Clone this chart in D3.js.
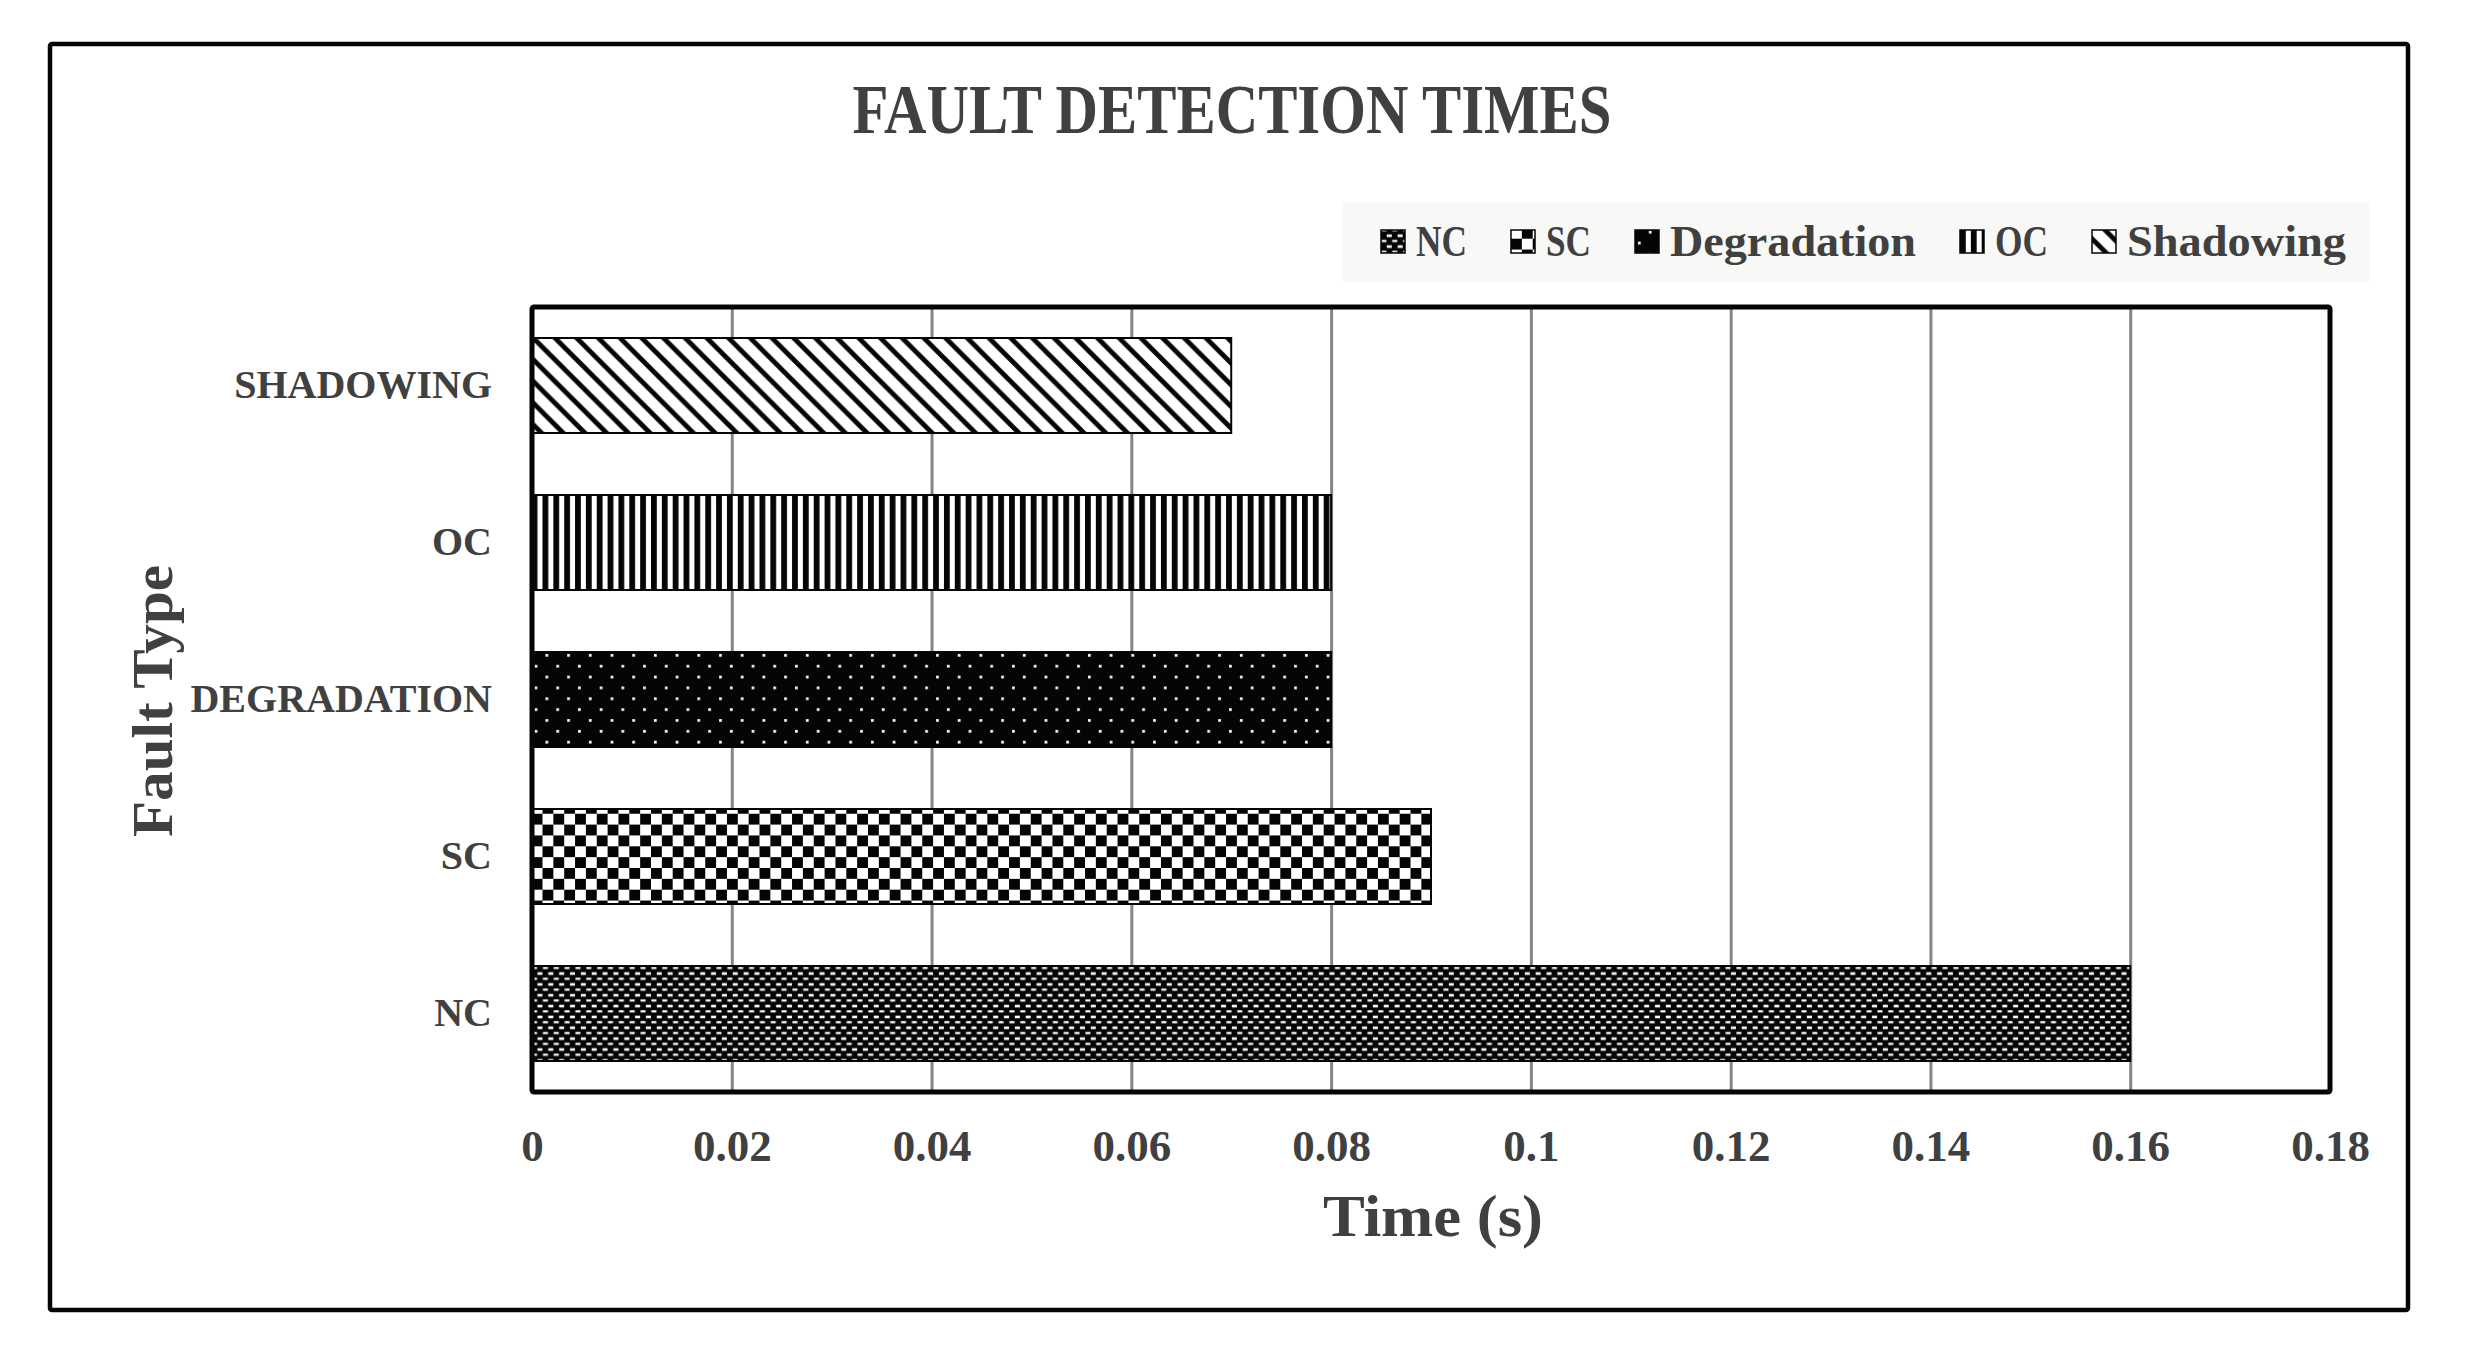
<!DOCTYPE html>
<html>
<head>
<meta charset="utf-8">
<script src="https://cdn.jsdelivr.net/npm/d3@7/dist/d3.min.js"></script>
<style>
  body { margin: 0; background: #fff; }
  text { font-family: "Liberation Serif", "Times New Roman", serif; font-weight: bold; fill: #404040; }
</style>
</head>
<body>
<svg id="chart" width="2465" height="1354"></svg>
<script>
// data, bottom to top as in the sheet
var categories = ["NC", "SC", "Degradation", "OC", "Shadowing"];
var axisLabels = ["NC", "SC", "DEGRADATION", "OC", "SHADOWING"];
var times      = [0.16, 0.09, 0.08, 0.08, 0.07];
var xTicks     = [0, 0.02, 0.04, 0.06, 0.08, 0.1, 0.12, 0.14, 0.16, 0.18];
var legendNames = ["NC", "SC", "Degradation", "OC", "Shadowing"];

// layout
var W = 2465, H = 1354;
var plot = {left: 532, top: 307, right: 2330, bottom: 1092};
var legendTextWidth = {NC: 51, SC: 45, Degradation: 246, OC: 53, Shadowing: 219};

var svg = d3.select("#chart");
var defs = svg.append("defs");

// excel-like fill patterns, one 8px tile blown up to ~21.7px
var T = 21.7, h = T / 2;
var pat = {
  NC: function(p) {
    p.attr("width", h).attr("height", h);
    p.append("rect").attr("width", h).attr("height", h).attr("fill", "#050505");
    p.append("rect").attr("x", 0.4).attr("y", 1.2).attr("width", 5).attr("height", 2.2).attr("fill", "#fff");
    p.append("rect").attr("x", 5.8).attr("y", 6.6).attr("width", 5).attr("height", 2.6).attr("fill", "#fff");
  },
  SC: function(p) {
    p.attr("width", T).attr("height", T);
    p.append("rect").attr("width", T).attr("height", T).attr("fill", "#fff");
    p.append("rect").attr("width", h).attr("height", h).attr("fill", "#050505");
    p.append("rect").attr("x", h).attr("y", h).attr("width", h).attr("height", h).attr("fill", "#050505");
  },
  Degradation: function(p) {
    p.attr("width", T).attr("height", T);
    p.append("rect").attr("width", T).attr("height", T).attr("fill", "#050505");
    p.append("rect").attr("x", 3).attr("y", 3).attr("width", 2.7).attr("height", 2.7).attr("fill", "#fff");
    p.append("rect").attr("x", 3 + h).attr("y", 3 + h).attr("width", 2.7).attr("height", 2.7).attr("fill", "#fff");
  },
  OC: function(p) {
    p.attr("width", h).attr("height", T);
    p.append("rect").attr("width", h).attr("height", T).attr("fill", "#fff");
    p.append("rect").attr("width", 5.8).attr("height", T).attr("fill", "#050505");
  },
  Shadowing: function(p) {
    p.attr("width", T).attr("height", T);
    p.append("rect").attr("width", T).attr("height", T).attr("fill", "#fff");
    p.append("path")
      .attr("d", "M0,0L" + T + "," + T +
                 "M" + (-h) + "," + h + "L" + h + "," + (T + h) +
                 "M" + h + "," + (-h) + "L" + (T + h) + "," + h)
      .attr("stroke", "#050505").attr("stroke-width", 4.8);
  }
};
categories.forEach(function(c) {
  var p = defs.append("pattern").attr("id", "pat-" + c).attr("patternUnits", "userSpaceOnUse");
  pat[c](p);
});

// outer frame
svg.append("rect").attr("x", 50).attr("y", 44).attr("width", 2358).attr("height", 1266)
  .attr("rx", 2).attr("fill", "#fff").attr("stroke", "#050505").attr("stroke-width", 4.5);

var x = d3.scaleLinear().domain([0, 0.18]).range([plot.left, plot.right]);
var y = d3.scaleBand().domain(categories.slice().reverse())
  .range([plot.top, plot.bottom]).paddingInner(0.395).paddingOuter(0.1975);

// gridlines
svg.append("g").attr("class", "grid")
  .attr("transform", "translate(0," + plot.bottom + ")")
  .call(d3.axisBottom(x).tickValues(xTicks.slice(1, -1)).tickSize(-(plot.bottom - plot.top)).tickFormat(""))
  .call(function(g) { g.select(".domain").remove(); })
  .selectAll("line").attr("stroke", "#858585").attr("stroke-width", 3);

// bars
svg.append("g").selectAll("rect").data(categories).join("rect")
  .attr("x", x(0))
  .attr("y", function(d) { return y(d); })
  .attr("width", function(d, i) { return x(times[i]) - x(0); })
  .attr("height", y.bandwidth())
  .attr("fill", function(d) { return "url(#pat-" + d + ")"; })
  .attr("stroke", "#050505").attr("stroke-width", 2);

// plot frame
svg.append("rect").attr("x", plot.left).attr("y", plot.top)
  .attr("width", plot.right - plot.left).attr("height", plot.bottom - plot.top)
  .attr("rx", 2).attr("fill", "none").attr("stroke", "#050505").attr("stroke-width", 5);

// category axis
var yAxis = svg.append("g").attr("transform", "translate(" + plot.left + ",0)")
  .call(d3.axisLeft(y).tickSize(0).tickPadding(40)
    .tickFormat(function(d) { return axisLabels[categories.indexOf(d)]; }));
yAxis.select(".domain").remove();
yAxis.selectAll("text").attr("font-size", 40).attr("dy", "0.32em");

// value axis
var xAxis = svg.append("g").attr("transform", "translate(0," + plot.bottom + ")")
  .call(d3.axisBottom(x).tickValues(xTicks).tickSize(0).tickPadding(37)
    .tickFormat(function(d) { return String(+d.toFixed(2)); }));
xAxis.select(".domain").remove();
xAxis.selectAll("text").attr("font-size", 45);

// titles
svg.append("text").attr("x", 1232).attr("y", 133).attr("text-anchor", "middle")
  .attr("font-size", 70).attr("textLength", 759).attr("lengthAdjust", "spacingAndGlyphs")
  .text("FAULT DETECTION TIMES");
svg.append("text").attr("x", 1433).attr("y", 1236).attr("text-anchor", "middle")
  .attr("font-size", 60).attr("textLength", 220).attr("lengthAdjust", "spacingAndGlyphs")
  .text("Time (s)");
svg.append("text").attr("transform", "translate(172,701) rotate(-90)").attr("text-anchor", "middle")
  .attr("font-size", 58).attr("textLength", 272).attr("lengthAdjust", "spacingAndGlyphs")
  .text("Fault Type");

// legend
var legend = svg.append("g");
legend.append("rect").attr("x", 1342).attr("y", 202).attr("width", 1028).attr("height", 80).attr("fill", "#f8f8f6");
var lx = 1381;
legendNames.forEach(function(name) {
  var g = legend.append("g").attr("transform", "translate(" + lx + ",0)");
  g.append("rect").attr("y", 230).attr("width", 24).attr("height", 23)
    .attr("fill", "url(#pat-" + name + ")").attr("stroke", "#050505").attr("stroke-width", 1.5);
  g.append("text").attr("x", 35).attr("y", 256).attr("font-size", 45)
    .attr("textLength", legendTextWidth[name]).attr("lengthAdjust", "spacingAndGlyphs")
    .text(name);
  lx += 35 + legendTextWidth[name] + 44;
});
</script>
</body>
</html>
